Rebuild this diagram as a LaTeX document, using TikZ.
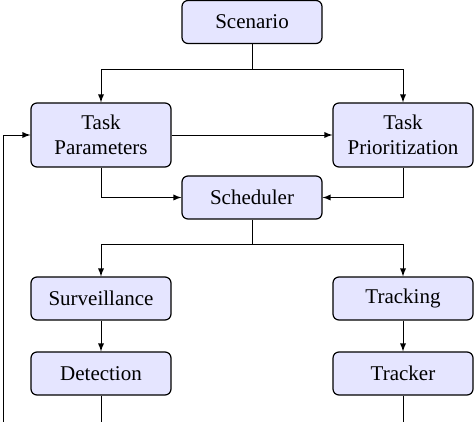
\documentclass[tikz,border=0pt]{standalone}
\usepackage{fontspec}
\setmainfont{Liberation Serif}
\usepackage{tikz}
\tikzset{blk/.style={draw,line width=0.6pt,rounded corners=3pt,fill=blue!10,align=center,
    minimum width=70pt,minimum height=21.5pt,inner sep=1pt,
    font=\fontsize{10.5}{12.5}\selectfont}}

\begin{document}
\begin{tikzpicture}[x=0.5pt,y=-0.5pt,>=latex]
    \useasboundingbox (0,0) rectangle (474,421);
    \clip (0,0) rectangle (474,421);
    \node[blk] (scen) at (252,22) {Scenario};
    \node[blk,minimum height=32pt] (tpar) at (101,135) {Task\\Parameters};
    \node[blk,minimum height=32pt] (tpri) at (403,135) {Task\\Prioritization};
    \node[blk] (sched) at (252,197.5) {Scheduler};
    \node[blk] (surv) at (101,298.5) {Surveillance};
    \node[blk] (track) at (403,298.5) {Tracking};
    \node[blk] (det) at (101,373.5) {Detection};
    \node[blk] (trk) at (403,373.5) {Tracker};
    \coordinate (s1) at (252,69);
    \coordinate (s2) at (252,244);
    \coordinate (d1) at (101,440);
    \coordinate (t1) at (403,440);
    \coordinate (fb) at (3,440);
    \draw (scen) -- (s1);
    \draw[->] (s1) -| (tpar);
    \draw[->] (s1) -| (tpri);
    \draw[->] (tpar) -- (tpri);
    \draw[->] (tpar) |- (sched);
    \draw[->] (tpri) |- (sched);
    \draw (sched) -- (s2);
    \draw[->] (s2) -| (surv);
    \draw[->] (s2) -| (track);
    \draw[->] (surv) -- (det);
    \draw[->] (track) -- (trk);
    \draw (det) -- (d1);
    \draw (trk) -- (t1);
%    feedback from below
    \draw[->] (fb) |- (tpar);
  \end{tikzpicture}
\end{document}
